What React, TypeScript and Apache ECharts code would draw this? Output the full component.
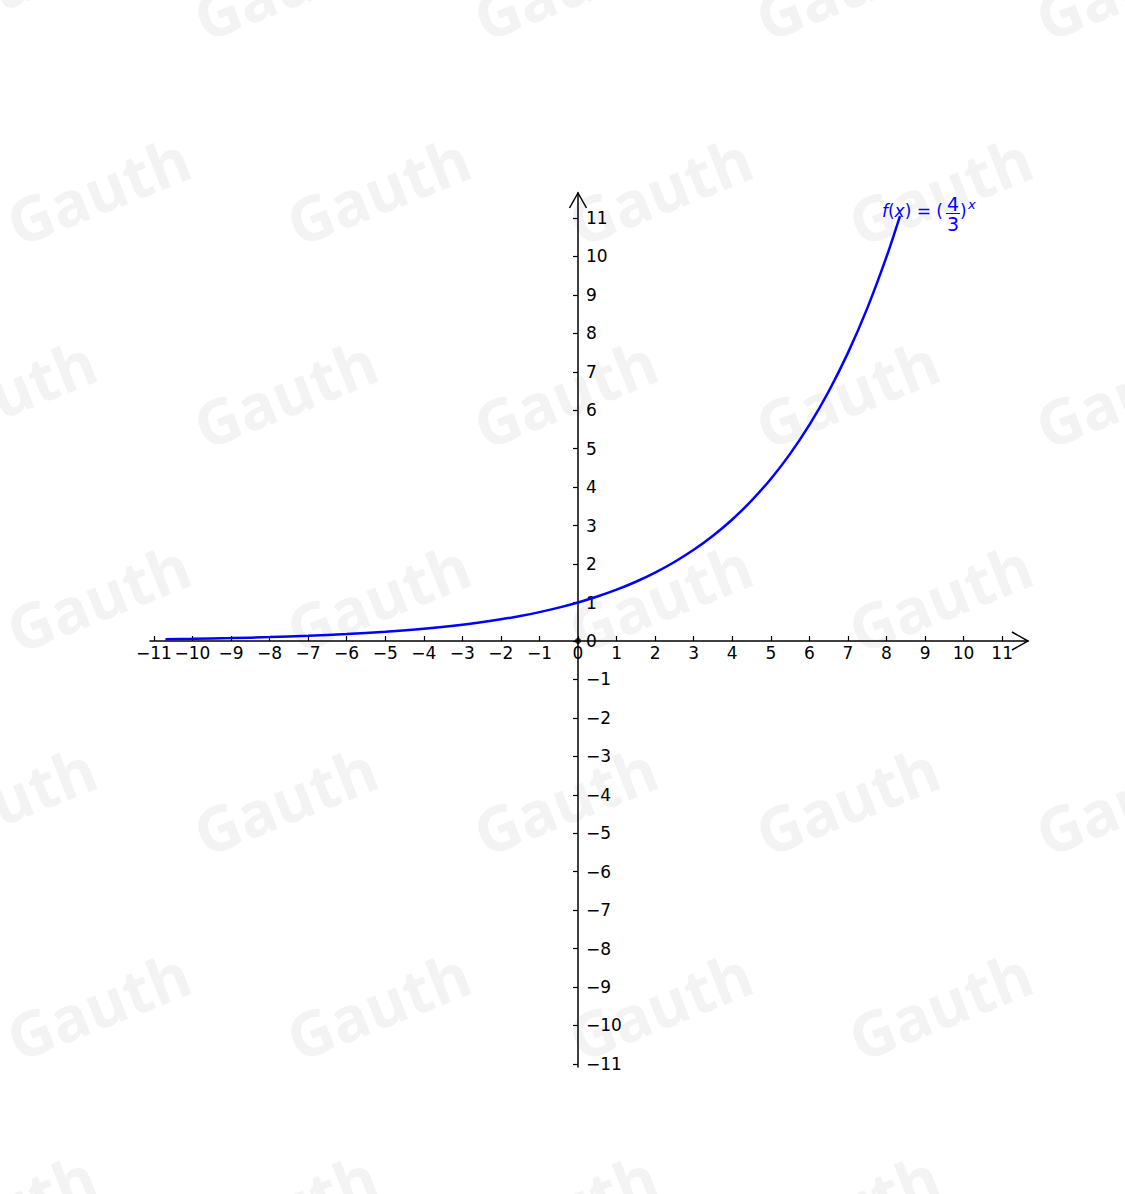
import React, { useEffect, useRef } from "react";
import * as echarts from "echarts";

// ---- data ----
const xTicks = [-11, -10, -9, -8, -7, -6, -5, -4, -3, -2, -1, 0, 1, 2, 3, 4, 5, 6, 7, 8, 9, 10, 11];
const yTicks = [-11, -10, -9, -8, -7, -6, -5, -4, -3, -2, -1, 0, 1, 2, 3, 4, 5, 6, 7, 8, 9, 10, 11];
const curveX = [-10.7, -10, -9, -8, -7, -6, -5, -4, -3, -2, -1.5, -1, -0.5, 0, 0.5, 1, 1.5, 2, 2.5, 3, 3.5, 4, 4.5, 5, 5.5, 6, 6.5, 7, 7.5, 8, 8.35];
const curveY = [0.046, 0.056, 0.075, 0.1, 0.134, 0.178, 0.237, 0.316, 0.422, 0.563, 0.65, 0.75, 0.866, 1, 1.155, 1.333, 1.54, 1.778, 2.053, 2.37, 2.737, 3.16, 3.649, 4.214, 4.866, 5.619, 6.488, 7.492, 8.65, 9.989, 11.05];
const originPoint = [[0, 0]];
const wmRowA = [98, 378, 660, 940];
const wmRowB = [4, 285, 565, 847, 1127];
const wmRowAY = [190, 597, 1005];
const wmRowBY = [-15, 393, 800, 1208];

const fmt = (v: number) => (v < 0 ? "\u2212" + Math.abs(v) : String(v));
const FONT = "DejaVu Sans";
const BLUE = "#0000ff";

export default function App() {
  const ref = useRef<HTMLDivElement>(null);
  useEffect(() => {
    if (!ref.current) return;
    const chart = echarts.init(ref.current, undefined, { renderer: "svg" });

    const wmStyle = { text: "Gauth", fill: "#f3f3f3", fontSize: 62, fontWeight: "bold", fontFamily: "Open Sans", align: "center", verticalAlign: "middle" };
    const watermarks: any[] = [];
    wmRowAY.forEach((y) => wmRowA.forEach((x) => watermarks.push({ type: "text", x, y, rotation: 0.38, z: -10, silent: true, style: wmStyle })));
    wmRowBY.forEach((y) => wmRowB.forEach((x) => watermarks.push({ type: "text", x, y, rotation: 0.38, z: -10, silent: true, style: wmStyle })));

    const axisLineStyle = { color: "#000", width: 1.5 };

    chart.setOption({
      animation: false,
      backgroundColor: "#fff",
      grid: { left: 150, right: 97, top: 193, bottom: 127, containLabel: false },
      xAxis: {
        type: "value",
        position: "bottom",
        offset: -426,
        min: -11.1,
        max: 11.67,
        axisLine: { onZero: false, lineStyle: axisLineStyle },
        axisTick: { show: true, inside: true, length: 5, customValues: xTicks, lineStyle: { color: "#000", width: 1.2 } },
        axisLabel: {
          customValues: xTicks,
          formatter: (v: number) => fmt(v),
          color: "#000",
          fontSize: 17,
          fontFamily: FONT,
          margin: 3,
          hideOverlap: false,
        },
        splitLine: { show: false },
      },
      yAxis: {
        type: "value",
        position: "left",
        offset: -428,
        min: -11.08,
        max: 11.65,
        axisLine: { onZero: false, lineStyle: axisLineStyle },
        axisTick: { show: true, inside: false, length: 5, customValues: yTicks, lineStyle: { color: "#000", width: 1.2 } },
        axisLabel: {
          customValues: yTicks,
          inside: true,
          formatter: (v: number) => fmt(v),
          color: "#000",
          fontSize: 17,
          fontFamily: FONT,
          margin: 8,
          hideOverlap: false,
        },
        splitLine: { show: false },
      },
      series: [
        {
          type: "line",
          data: curveX.map((x, i) => [x, curveY[i]]),
          smooth: 0.3,
          showSymbol: false,
          lineStyle: { color: BLUE, width: 2.5 },
          z: 3,
        },
        {
          type: "scatter",
          data: originPoint,
          symbolSize: 6,
          itemStyle: { color: "#000" },
          z: 4,
        },
      ],
      graphic: [
        ...watermarks,
        { type: "polyline", z: 10, shape: { points: [[1012, 632], [1028, 641], [1012, 650]] }, style: { stroke: "#000", lineWidth: 1.5, fill: "none" } },
        { type: "polyline", z: 10, shape: { points: [[569.5, 208], [578, 193], [586.5, 208]] }, style: { stroke: "#000", lineWidth: 1.5, fill: "none" } },
        {
          type: "text", x: 882, y: 211, z: 10,
          style: {
            text: "{i|f}({i|x}) = (",
            fill: BLUE, fontSize: 17, fontFamily: FONT, verticalAlign: "middle",
            rich: { i: { fontStyle: "italic", fill: BLUE, fontSize: 17, fontFamily: FONT } },
          },
        },
        { type: "text", x: 953, y: 204, z: 10, style: { text: "4", fill: BLUE, fontSize: 19, fontFamily: FONT, align: "center", verticalAlign: "middle" } },
        { type: "line", z: 10, shape: { x1: 946, y1: 213.5, x2: 960, y2: 213.5 }, style: { stroke: BLUE, lineWidth: 1 } },
        { type: "text", x: 953, y: 224, z: 10, style: { text: "3", fill: BLUE, fontSize: 19, fontFamily: FONT, align: "center", verticalAlign: "middle" } },
        { type: "text", x: 960, y: 211, z: 10, style: { text: ")", fill: BLUE, fontSize: 17, fontFamily: FONT, verticalAlign: "middle" } },
        { type: "text", x: 968, y: 204, z: 10, style: { text: "x", fill: BLUE, fontSize: 13, fontStyle: "italic", fontFamily: FONT, verticalAlign: "middle" } },
      ],
    });
    return () => chart.dispose();
  }, []);
  return <div ref={ref} style={{ position: "absolute", left: 0, top: 0, width: 1125, height: 1194 }} />;
}
